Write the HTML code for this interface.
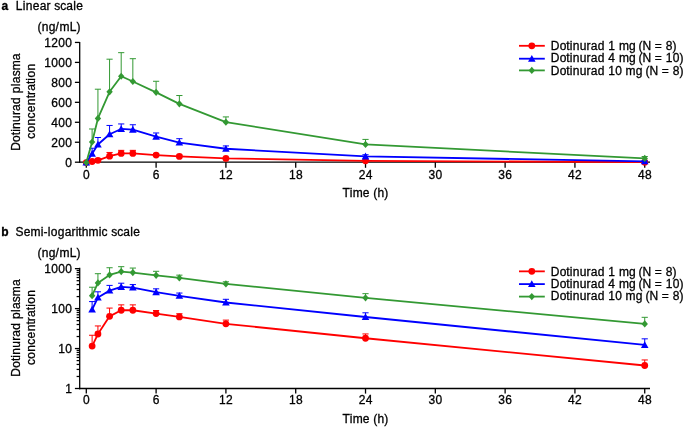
<!DOCTYPE html>
<html><head><meta charset="utf-8"><title>Dotinurad plasma concentration</title>
<style>
html,body{margin:0;padding:0;background:#fff;}
svg{display:block;}
svg text{stroke:#000;stroke-width:0.3px;font-family:"Liberation Sans",Arial,Helvetica,sans-serif;font-size:12px;fill:#000;}
</style></head><body>
<svg width="685" height="427" viewBox="0 0 685 427">
<rect width="685" height="427" fill="#fff"/>
<text x="1.56" y="10.40" font-weight="bold">a</text><text x="15.66 22.67 25.66 32.66 39.66 46.50 50.68 54.20 60.20 66.36 73.37 76.36" y="10.40">Linear scale</text>
<text x="37.50 41.66 48.66 55.58 59.50 69.66 76.50" y="31.20">(ng/mL)</text>
<path d="M79.7 41.9V162.85" stroke="#000" stroke-width="1.3"/>
<path d="M74.9 162.20H79.7" stroke="#000" stroke-width="1.3"/>
<text x="65.16" y="166.80">0</text>
<path d="M74.9 142.24H79.7" stroke="#000" stroke-width="1.3"/>
<text x="51.16 58.16 65.16" y="146.84">200</text>
<path d="M74.9 122.28H79.7" stroke="#000" stroke-width="1.3"/>
<text x="51.16 58.16 65.16" y="126.88">400</text>
<path d="M74.9 102.32H79.7" stroke="#000" stroke-width="1.3"/>
<text x="51.16 58.16 65.16" y="106.92">600</text>
<path d="M74.9 82.36H79.7" stroke="#000" stroke-width="1.3"/>
<text x="51.16 58.16 65.16" y="86.96">800</text>
<path d="M74.9 62.40H79.7" stroke="#000" stroke-width="1.3"/>
<text x="44.16 51.16 58.16 65.16" y="67.00">1000</text>
<path d="M74.9 42.44H79.7" stroke="#000" stroke-width="1.3"/>
<text x="44.16 51.16 58.16 65.16" y="47.04">1200</text>
<path d="M79.05 162.2H650" stroke="#000" stroke-width="1.3"/>
<path d="M86.30 162.2V167.79999999999998" stroke="#000" stroke-width="1.3"/>
<text x="82.96" y="178.60">0</text>
<path d="M156.10 162.2V167.79999999999998" stroke="#000" stroke-width="1.3"/>
<text x="152.77" y="178.60">6</text>
<path d="M225.91 162.2V167.79999999999998" stroke="#000" stroke-width="1.3"/>
<text x="219.07 226.07" y="178.60">12</text>
<path d="M295.71 162.2V167.79999999999998" stroke="#000" stroke-width="1.3"/>
<text x="288.88 295.88" y="178.60">18</text>
<path d="M365.52 162.2V167.79999999999998" stroke="#000" stroke-width="1.3"/>
<text x="358.68 365.68" y="178.60">24</text>
<path d="M435.32 162.2V167.79999999999998" stroke="#000" stroke-width="1.3"/>
<text x="428.48 435.48" y="178.60">30</text>
<path d="M505.12 162.2V167.79999999999998" stroke="#000" stroke-width="1.3"/>
<text x="498.29 505.29" y="178.60">36</text>
<path d="M574.93 162.2V167.79999999999998" stroke="#000" stroke-width="1.3"/>
<text x="568.09 575.09" y="178.60">42</text>
<path d="M644.73 162.2V167.79999999999998" stroke="#000" stroke-width="1.3"/>
<text x="637.90 644.90" y="178.60">48</text>
<text x="342.48 349.82 352.65 362.81 369.83 373.35 377.51 384.35" y="196.50">Time (h)</text>
<text x="-48.68 -39.69 -33.02 -29.68 -26.69 -19.69 -12.85 -8.69 -1.69 5.33 9.01 16.02 19.01 25.85 31.85 42.01" y="0.00" transform="translate(20.3 102.2) rotate(-90)">Dotinurad plasma</text>
<text x="-37.60 -31.34 -24.24 -17.30 -11.04 -3.94 2.83 6.10 10.36 17.13 20.57 23.66 30.76" y="0.00" transform="translate(35 101.2) rotate(-90)">concentration</text>
<path d="M92.12 161.48V160.50M89.02 160.50H95.22" stroke="#ff0000" stroke-width="1.0" fill="none"/>
<path d="M97.93 160.28V158.91M94.83 158.91H101.03" stroke="#ff0000" stroke-width="1.0" fill="none"/>
<path d="M109.57 156.17V152.46M106.47 152.46H112.67" stroke="#ff0000" stroke-width="1.0" fill="none"/>
<path d="M121.20 153.46V150.35M118.10 150.35H124.30" stroke="#ff0000" stroke-width="1.0" fill="none"/>
<path d="M132.84 153.46V150.35M129.74 150.35H135.94" stroke="#ff0000" stroke-width="1.0" fill="none"/>
<path d="M156.10 155.07V153.60M153.00 153.60H159.20" stroke="#ff0000" stroke-width="1.0" fill="none"/>
<path d="M179.37 156.38V155.12M176.27 155.12H182.47" stroke="#ff0000" stroke-width="1.0" fill="none"/>
<path d="M225.91 158.42V157.43M222.81 157.43H229.01" stroke="#ff0000" stroke-width="1.0" fill="none"/>
<path d="M365.52 160.78V160.27M362.42 160.27H368.62" stroke="#ff0000" stroke-width="1.0" fill="none"/>
<path d="M644.73 162.22V162.08M641.63 162.08H647.83" stroke="#ff0000" stroke-width="1.0" fill="none"/>
<polyline points="86.30,162.60 92.12,161.48 97.93,160.28 109.57,156.17 121.20,153.46 132.84,153.46 156.10,155.07 179.37,156.38 225.91,158.42 365.52,160.78 644.73,162.22" stroke="#ff0000" stroke-width="1.8" fill="none" stroke-linejoin="round"/>
<circle cx="86.30" cy="162.60" r="3.4" fill="#ff0000"/>
<circle cx="92.12" cy="161.48" r="3.4" fill="#ff0000"/>
<circle cx="97.93" cy="160.28" r="3.4" fill="#ff0000"/>
<circle cx="109.57" cy="156.17" r="3.4" fill="#ff0000"/>
<circle cx="121.20" cy="153.46" r="3.4" fill="#ff0000"/>
<circle cx="132.84" cy="153.46" r="3.4" fill="#ff0000"/>
<circle cx="156.10" cy="155.07" r="3.4" fill="#ff0000"/>
<circle cx="179.37" cy="156.38" r="3.4" fill="#ff0000"/>
<circle cx="225.91" cy="158.42" r="3.4" fill="#ff0000"/>
<circle cx="365.52" cy="160.78" r="3.4" fill="#ff0000"/>
<circle cx="644.73" cy="162.22" r="3.4" fill="#ff0000"/>
<path d="M92.12 153.76V148.24M89.02 148.24H95.22" stroke="#0000ff" stroke-width="1.0" fill="none"/>
<path d="M97.93 144.53V137.50M94.83 137.50H101.03" stroke="#0000ff" stroke-width="1.0" fill="none"/>
<path d="M109.57 134.29V125.45M106.47 125.45H112.67" stroke="#0000ff" stroke-width="1.0" fill="none"/>
<path d="M121.20 128.97V123.95M118.10 123.95H124.30" stroke="#0000ff" stroke-width="1.0" fill="none"/>
<path d="M132.84 129.67V124.75M129.74 124.75H135.94" stroke="#0000ff" stroke-width="1.0" fill="none"/>
<path d="M156.10 136.70V132.98M153.00 132.98H159.20" stroke="#0000ff" stroke-width="1.0" fill="none"/>
<path d="M179.37 142.52V138.70M176.27 138.70H182.47" stroke="#0000ff" stroke-width="1.0" fill="none"/>
<path d="M225.91 148.74V145.93M222.81 145.93H229.01" stroke="#0000ff" stroke-width="1.0" fill="none"/>
<path d="M365.52 156.42V154.72M362.42 154.72H368.62" stroke="#0000ff" stroke-width="1.0" fill="none"/>
<path d="M644.73 161.37V160.84M641.63 160.84H647.83" stroke="#0000ff" stroke-width="1.0" fill="none"/>
<polyline points="86.30,162.60 92.12,153.76 97.93,144.53 109.57,134.29 121.20,128.97 132.84,129.67 156.10,136.70 179.37,142.52 225.91,148.74 365.52,156.42 644.73,161.37" stroke="#0000ff" stroke-width="1.8" fill="none" stroke-linejoin="round"/>
<path d="M86.30 158.80L90.10 165.60L82.50 165.60Z" fill="#0000ff"/>
<path d="M92.12 149.96L95.92 156.76L88.32 156.76Z" fill="#0000ff"/>
<path d="M97.93 140.73L101.73 147.53L94.13 147.53Z" fill="#0000ff"/>
<path d="M109.57 130.49L113.37 137.29L105.77 137.29Z" fill="#0000ff"/>
<path d="M121.20 125.17L125.00 131.97L117.40 131.97Z" fill="#0000ff"/>
<path d="M132.84 125.87L136.64 132.67L129.04 132.67Z" fill="#0000ff"/>
<path d="M156.10 132.90L159.90 139.70L152.30 139.70Z" fill="#0000ff"/>
<path d="M179.37 138.72L183.17 145.52L175.57 145.52Z" fill="#0000ff"/>
<path d="M225.91 144.94L229.71 151.74L222.11 151.74Z" fill="#0000ff"/>
<path d="M365.52 152.62L369.32 159.42L361.72 159.42Z" fill="#0000ff"/>
<path d="M644.73 157.57L648.53 164.37L640.93 164.37Z" fill="#0000ff"/>
<path d="M92.12 142.02V128.97M89.02 128.97H95.22" stroke="#339933" stroke-width="1.0" fill="none"/>
<path d="M97.93 118.42V89.21M94.83 89.21H101.03" stroke="#339933" stroke-width="1.0" fill="none"/>
<path d="M109.57 91.82V59.19M106.47 59.19H112.67" stroke="#339933" stroke-width="1.0" fill="none"/>
<path d="M121.20 76.26V52.66M118.10 52.66H124.30" stroke="#339933" stroke-width="1.0" fill="none"/>
<path d="M132.84 81.48V58.69M129.74 58.69H135.94" stroke="#339933" stroke-width="1.0" fill="none"/>
<path d="M156.10 92.32V81.28M153.00 81.28H159.20" stroke="#339933" stroke-width="1.0" fill="none"/>
<path d="M179.37 103.87V95.53M176.27 95.53H182.47" stroke="#339933" stroke-width="1.0" fill="none"/>
<path d="M225.91 122.14V116.92M222.81 116.92H229.01" stroke="#339933" stroke-width="1.0" fill="none"/>
<path d="M365.52 144.43V139.41M362.42 139.41H368.62" stroke="#339933" stroke-width="1.0" fill="none"/>
<path d="M644.73 158.44V156.53M641.63 156.53H647.83" stroke="#339933" stroke-width="1.0" fill="none"/>
<polyline points="86.30,162.60 92.12,142.02 97.93,118.42 109.57,91.82 121.20,76.26 132.84,81.48 156.10,92.32 179.37,103.87 225.91,122.14 365.52,144.43 644.73,158.44" stroke="#339933" stroke-width="1.8" fill="none" stroke-linejoin="round"/>
<path d="M86.30 159.00L89.50 162.60L86.30 166.20L83.10 162.60Z" fill="#339933"/>
<path d="M92.12 138.42L95.32 142.02L92.12 145.62L88.92 142.02Z" fill="#339933"/>
<path d="M97.93 114.82L101.13 118.42L97.93 122.02L94.73 118.42Z" fill="#339933"/>
<path d="M109.57 88.22L112.77 91.82L109.57 95.42L106.37 91.82Z" fill="#339933"/>
<path d="M121.20 72.66L124.40 76.26L121.20 79.86L118.00 76.26Z" fill="#339933"/>
<path d="M132.84 77.88L136.04 81.48L132.84 85.08L129.64 81.48Z" fill="#339933"/>
<path d="M156.10 88.72L159.30 92.32L156.10 95.92L152.90 92.32Z" fill="#339933"/>
<path d="M179.37 100.27L182.57 103.87L179.37 107.47L176.17 103.87Z" fill="#339933"/>
<path d="M225.91 118.54L229.11 122.14L225.91 125.74L222.71 122.14Z" fill="#339933"/>
<path d="M365.52 140.83L368.72 144.43L365.52 148.03L362.32 144.43Z" fill="#339933"/>
<path d="M644.73 154.84L647.93 158.44L644.73 162.04L641.53 158.44Z" fill="#339933"/>
<path d="M519 45.80H544.8" stroke="#ff0000" stroke-width="1.8"/>
<circle cx="531.80" cy="45.80" r="3.4" fill="#ff0000"/>
<text x="550.67 559.66 566.33 569.67 572.66 579.66 586.50 590.66 597.66 604.68 608.36 615.38 618.90 629.06 634.88 638.40 642.57 651.28 654.80 661.98 665.66 672.50" y="50.35">Dotinurad 1 mg (N = 8)</text>
<path d="M519 58.70H544.8" stroke="#0000ff" stroke-width="1.8"/>
<path d="M531.80 54.90L535.60 61.70L528.00 61.70Z" fill="#0000ff"/>
<text x="550.67 559.66 566.33 569.67 572.66 579.66 586.50 590.66 597.66 604.68 608.36 615.38 618.90 629.06 634.88 638.40 642.57 651.28 654.80 661.98 665.66 672.66 679.50" y="61.75">Dotinurad 4 mg (N = 10)</text>
<path d="M519 70.40H544.8" stroke="#339933" stroke-width="1.8"/>
<path d="M531.80 66.80L535.00 70.40L531.80 74.00L528.60 70.40Z" fill="#339933"/>
<text x="550.67 559.66 566.33 569.67 572.66 579.66 586.50 590.66 597.66 604.68 608.36 615.36 621.98 625.50 635.66 641.88 645.40 649.57 658.28 661.80 668.98 672.66 679.50" y="74.50">Dotinurad 10 mg (N = 8)</text>
<text x="1.23" y="236.40" font-weight="bold">b</text><text x="15.50 23.66 30.50 40.67 43.50 47.67 50.66 57.66 64.66 71.50 75.67 78.33 81.66 88.50 98.67 101.50 107.68 111.20 117.20 123.36 130.37 133.36" y="236.40">Semi-logarithmic scale</text>
<text x="37.50 41.66 48.66 55.58 59.50 69.66 76.50" y="257.40">(ng/mL)</text>
<path d="M79.7 267.7V389.15" stroke="#000" stroke-width="1.3"/>
<path d="M74.9 388.50H79.7" stroke="#000" stroke-width="1.3"/>
<text x="65.16" y="392.80">1</text>
<path d="M76.6 376.47H79.7" stroke="#000" stroke-width="1.25"/>
<path d="M76.6 369.44H79.7" stroke="#000" stroke-width="1.25"/>
<path d="M76.6 364.45H79.7" stroke="#000" stroke-width="1.25"/>
<path d="M76.6 360.58H79.7" stroke="#000" stroke-width="1.25"/>
<path d="M76.6 357.41H79.7" stroke="#000" stroke-width="1.25"/>
<path d="M76.6 354.74H79.7" stroke="#000" stroke-width="1.25"/>
<path d="M76.6 352.42H79.7" stroke="#000" stroke-width="1.25"/>
<path d="M76.6 350.38H79.7" stroke="#000" stroke-width="1.25"/>
<path d="M74.9 348.55H79.7" stroke="#000" stroke-width="1.3"/>
<text x="58.16 65.16" y="352.85">10</text>
<path d="M76.6 336.52H79.7" stroke="#000" stroke-width="1.25"/>
<path d="M76.6 329.49H79.7" stroke="#000" stroke-width="1.25"/>
<path d="M76.6 324.50H79.7" stroke="#000" stroke-width="1.25"/>
<path d="M76.6 320.63H79.7" stroke="#000" stroke-width="1.25"/>
<path d="M76.6 317.46H79.7" stroke="#000" stroke-width="1.25"/>
<path d="M76.6 314.79H79.7" stroke="#000" stroke-width="1.25"/>
<path d="M76.6 312.47H79.7" stroke="#000" stroke-width="1.25"/>
<path d="M76.6 310.43H79.7" stroke="#000" stroke-width="1.25"/>
<path d="M74.9 308.60H79.7" stroke="#000" stroke-width="1.3"/>
<text x="51.16 58.16 65.16" y="312.90">100</text>
<path d="M76.6 296.57H79.7" stroke="#000" stroke-width="1.25"/>
<path d="M76.6 289.54H79.7" stroke="#000" stroke-width="1.25"/>
<path d="M76.6 284.55H79.7" stroke="#000" stroke-width="1.25"/>
<path d="M76.6 280.68H79.7" stroke="#000" stroke-width="1.25"/>
<path d="M76.6 277.51H79.7" stroke="#000" stroke-width="1.25"/>
<path d="M76.6 274.84H79.7" stroke="#000" stroke-width="1.25"/>
<path d="M76.6 272.52H79.7" stroke="#000" stroke-width="1.25"/>
<path d="M76.6 270.48H79.7" stroke="#000" stroke-width="1.25"/>
<path d="M74.9 268.65H79.7" stroke="#000" stroke-width="1.3"/>
<text x="44.16 51.16 58.16 65.16" y="272.95">1000</text>
<path d="M79.05 388.5H650" stroke="#000" stroke-width="1.3"/>
<path d="M86.30 388.5V393.6" stroke="#000" stroke-width="1.3"/>
<text x="82.96" y="404.10">0</text>
<path d="M156.10 388.5V393.6" stroke="#000" stroke-width="1.3"/>
<text x="152.77" y="404.10">6</text>
<path d="M225.91 388.5V393.6" stroke="#000" stroke-width="1.3"/>
<text x="219.07 226.07" y="404.10">12</text>
<path d="M295.71 388.5V393.6" stroke="#000" stroke-width="1.3"/>
<text x="288.88 295.88" y="404.10">18</text>
<path d="M365.52 388.5V393.6" stroke="#000" stroke-width="1.3"/>
<text x="358.68 365.68" y="404.10">24</text>
<path d="M435.32 388.5V393.6" stroke="#000" stroke-width="1.3"/>
<text x="428.48 435.48" y="404.10">30</text>
<path d="M505.12 388.5V393.6" stroke="#000" stroke-width="1.3"/>
<text x="498.29 505.29" y="404.10">36</text>
<path d="M574.93 388.5V393.6" stroke="#000" stroke-width="1.3"/>
<text x="568.09 575.09" y="404.10">42</text>
<path d="M644.73 388.5V393.6" stroke="#000" stroke-width="1.3"/>
<text x="637.90 644.90" y="404.10">48</text>
<text x="342.48 349.82 352.65 362.81 369.83 373.35 377.51 384.35" y="423.10">Time (h)</text>
<text x="-48.68 -39.69 -33.02 -29.68 -26.69 -19.69 -12.85 -8.69 -1.69 5.33 9.01 16.02 19.01 25.85 31.85 42.01" y="0.00" transform="translate(20.3 328) rotate(-90)">Dotinurad plasma</text>
<text x="-37.60 -31.34 -24.24 -17.30 -11.04 -3.94 2.83 6.10 10.36 17.13 20.57 23.66 30.76" y="0.00" transform="translate(35 327.4) rotate(-90)">concentration</text>
<path d="M92.12 346.08V335.26M89.02 335.26H95.22" stroke="#ff0000" stroke-width="1.0" fill="none"/>
<path d="M97.93 334.02V325.94M94.83 325.94H101.03" stroke="#ff0000" stroke-width="1.0" fill="none"/>
<path d="M109.57 316.34V308.09M106.47 308.09H112.67" stroke="#ff0000" stroke-width="1.0" fill="none"/>
<path d="M121.20 310.24V304.87M118.10 304.87H124.30" stroke="#ff0000" stroke-width="1.0" fill="none"/>
<path d="M132.84 310.24V304.87M129.74 304.87H135.94" stroke="#ff0000" stroke-width="1.0" fill="none"/>
<path d="M156.10 313.59V310.51M153.00 310.51H159.20" stroke="#ff0000" stroke-width="1.0" fill="none"/>
<path d="M179.37 316.89V313.71M176.27 313.71H182.47" stroke="#ff0000" stroke-width="1.0" fill="none"/>
<path d="M225.91 323.82V320.11M222.81 320.11H229.01" stroke="#ff0000" stroke-width="1.0" fill="none"/>
<path d="M365.52 338.26V333.95M362.42 333.95H368.62" stroke="#ff0000" stroke-width="1.0" fill="none"/>
<path d="M644.73 365.48V359.96M641.63 359.96H647.83" stroke="#ff0000" stroke-width="1.0" fill="none"/>
<polyline points="92.12,346.08 97.93,334.02 109.57,316.34 121.20,310.24 132.84,310.24 156.10,313.59 179.37,316.89 225.91,323.82 365.52,338.26 644.73,365.48" stroke="#ff0000" stroke-width="1.8" fill="none" stroke-linejoin="round"/>
<circle cx="92.12" cy="346.08" r="3.4" fill="#ff0000"/>
<circle cx="97.93" cy="334.02" r="3.4" fill="#ff0000"/>
<circle cx="109.57" cy="316.34" r="3.4" fill="#ff0000"/>
<circle cx="121.20" cy="310.24" r="3.4" fill="#ff0000"/>
<circle cx="132.84" cy="310.24" r="3.4" fill="#ff0000"/>
<circle cx="156.10" cy="313.59" r="3.4" fill="#ff0000"/>
<circle cx="179.37" cy="316.89" r="3.4" fill="#ff0000"/>
<circle cx="225.91" cy="323.82" r="3.4" fill="#ff0000"/>
<circle cx="365.52" cy="338.26" r="3.4" fill="#ff0000"/>
<circle cx="644.73" cy="365.48" r="3.4" fill="#ff0000"/>
<path d="M92.12 309.62V301.59M89.02 301.59H95.22" stroke="#0000ff" stroke-width="1.0" fill="none"/>
<path d="M97.93 297.50V291.80M94.83 291.80H101.03" stroke="#0000ff" stroke-width="1.0" fill="none"/>
<path d="M109.57 290.61V285.40M106.47 285.40H112.67" stroke="#0000ff" stroke-width="1.0" fill="none"/>
<path d="M121.20 286.92V283.21M118.10 283.21H124.30" stroke="#0000ff" stroke-width="1.0" fill="none"/>
<path d="M132.84 287.59V284.58M129.74 284.58H135.94" stroke="#0000ff" stroke-width="1.0" fill="none"/>
<path d="M156.10 292.16V288.83M153.00 288.83H159.20" stroke="#0000ff" stroke-width="1.0" fill="none"/>
<path d="M179.37 295.87V293.06M176.27 293.06H182.47" stroke="#0000ff" stroke-width="1.0" fill="none"/>
<path d="M225.91 302.51V299.31M222.81 299.31H229.01" stroke="#0000ff" stroke-width="1.0" fill="none"/>
<path d="M365.52 317.01V312.80M362.42 312.80H368.62" stroke="#0000ff" stroke-width="1.0" fill="none"/>
<path d="M644.73 344.96V338.84M641.63 338.84H647.83" stroke="#0000ff" stroke-width="1.0" fill="none"/>
<polyline points="92.12,309.62 97.93,297.50 109.57,290.61 121.20,286.92 132.84,287.59 156.10,292.16 179.37,295.87 225.91,302.51 365.52,317.01 644.73,344.96" stroke="#0000ff" stroke-width="1.8" fill="none" stroke-linejoin="round"/>
<path d="M92.12 305.82L95.92 312.62L88.32 312.62Z" fill="#0000ff"/>
<path d="M97.93 293.70L101.73 300.50L94.13 300.50Z" fill="#0000ff"/>
<path d="M109.57 286.81L113.37 293.61L105.77 293.61Z" fill="#0000ff"/>
<path d="M121.20 283.12L125.00 289.92L117.40 289.92Z" fill="#0000ff"/>
<path d="M132.84 283.79L136.64 290.59L129.04 290.59Z" fill="#0000ff"/>
<path d="M156.10 288.36L159.90 295.16L152.30 295.16Z" fill="#0000ff"/>
<path d="M179.37 292.07L183.17 298.87L175.57 298.87Z" fill="#0000ff"/>
<path d="M225.91 298.71L229.71 305.51L222.11 305.51Z" fill="#0000ff"/>
<path d="M365.52 313.21L369.32 320.01L361.72 320.01Z" fill="#0000ff"/>
<path d="M644.73 341.16L648.53 347.96L640.93 347.96Z" fill="#0000ff"/>
<path d="M92.12 295.65V287.22M89.02 287.22H95.22" stroke="#339933" stroke-width="1.0" fill="none"/>
<path d="M97.93 282.89V273.69M94.83 273.69H101.03" stroke="#339933" stroke-width="1.0" fill="none"/>
<path d="M109.57 274.91V267.74M106.47 267.74H112.67" stroke="#339933" stroke-width="1.0" fill="none"/>
<path d="M121.20 271.57V266.68M118.10 266.68H124.30" stroke="#339933" stroke-width="1.0" fill="none"/>
<path d="M132.84 272.55V268.05M129.74 268.05H135.94" stroke="#339933" stroke-width="1.0" fill="none"/>
<path d="M156.10 275.34V271.31M153.00 271.31H159.20" stroke="#339933" stroke-width="1.0" fill="none"/>
<path d="M179.37 277.95V275.15M176.27 275.15H182.47" stroke="#339933" stroke-width="1.0" fill="none"/>
<path d="M225.91 283.92V281.81M222.81 281.81H229.01" stroke="#339933" stroke-width="1.0" fill="none"/>
<path d="M365.52 297.81V293.67M362.42 293.67H368.62" stroke="#339933" stroke-width="1.0" fill="none"/>
<path d="M644.73 323.90V317.32M641.63 317.32H647.83" stroke="#339933" stroke-width="1.0" fill="none"/>
<polyline points="92.12,295.65 97.93,282.89 109.57,274.91 121.20,271.57 132.84,272.55 156.10,275.34 179.37,277.95 225.91,283.92 365.52,297.81 644.73,323.90" stroke="#339933" stroke-width="1.8" fill="none" stroke-linejoin="round"/>
<path d="M92.12 292.05L95.32 295.65L92.12 299.25L88.92 295.65Z" fill="#339933"/>
<path d="M97.93 279.29L101.13 282.89L97.93 286.49L94.73 282.89Z" fill="#339933"/>
<path d="M109.57 271.31L112.77 274.91L109.57 278.51L106.37 274.91Z" fill="#339933"/>
<path d="M121.20 267.97L124.40 271.57L121.20 275.17L118.00 271.57Z" fill="#339933"/>
<path d="M132.84 268.95L136.04 272.55L132.84 276.15L129.64 272.55Z" fill="#339933"/>
<path d="M156.10 271.74L159.30 275.34L156.10 278.94L152.90 275.34Z" fill="#339933"/>
<path d="M179.37 274.35L182.57 277.95L179.37 281.55L176.17 277.95Z" fill="#339933"/>
<path d="M225.91 280.32L229.11 283.92L225.91 287.52L222.71 283.92Z" fill="#339933"/>
<path d="M365.52 294.21L368.72 297.81L365.52 301.41L362.32 297.81Z" fill="#339933"/>
<path d="M644.73 320.30L647.93 323.90L644.73 327.50L641.53 323.90Z" fill="#339933"/>
<path d="M519 271.35H544.8" stroke="#ff0000" stroke-width="1.8"/>
<circle cx="531.80" cy="271.35" r="3.4" fill="#ff0000"/>
<text x="550.67 559.66 566.33 569.67 572.66 579.66 586.50 590.66 597.66 604.68 608.36 615.38 618.90 629.06 634.88 638.40 642.57 651.28 654.80 661.98 665.66 672.50" y="275.50">Dotinurad 1 mg (N = 8)</text>
<path d="M519 284.10H544.8" stroke="#0000ff" stroke-width="1.8"/>
<path d="M531.80 280.30L535.60 287.10L528.00 287.10Z" fill="#0000ff"/>
<text x="550.67 559.66 566.33 569.67 572.66 579.66 586.50 590.66 597.66 604.68 608.36 615.38 618.90 629.06 634.88 638.40 642.57 651.28 654.80 661.98 665.66 672.66 679.50" y="287.95">Dotinurad 4 mg (N = 10)</text>
<path d="M519 296.60H544.8" stroke="#339933" stroke-width="1.8"/>
<path d="M531.80 293.00L535.00 296.60L531.80 300.20L528.60 296.60Z" fill="#339933"/>
<text x="550.67 559.66 566.33 569.67 572.66 579.66 586.50 590.66 597.66 604.68 608.36 615.36 621.98 625.50 635.66 641.88 645.40 649.57 658.28 661.80 668.98 672.66 679.50" y="300.30">Dotinurad 10 mg (N = 8)</text>
</svg>
</body></html>
